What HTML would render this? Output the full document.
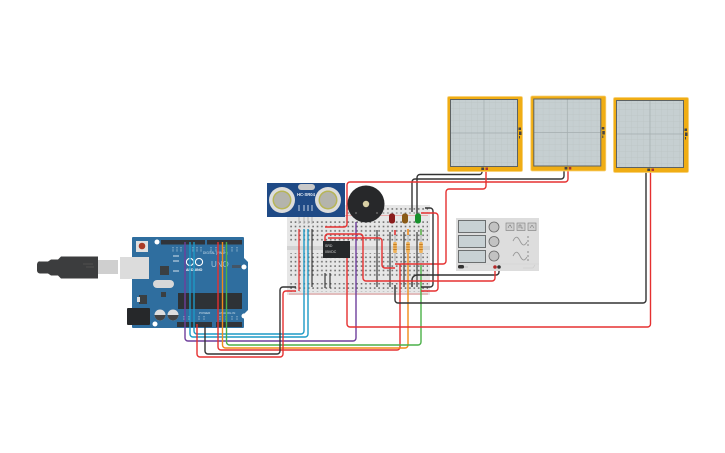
<!DOCTYPE html>
<html><head><meta charset="utf-8"><style>
html,body{margin:0;padding:0;background:#fff}
svg{display:block}
text{font-family:"Liberation Sans",sans-serif}
.w{fill:none;stroke-width:1.4;stroke-linejoin:round}
</style></head><body>
<svg width="725" height="453" viewBox="0 0 725 453" xmlns="http://www.w3.org/2000/svg">
<defs>
<pattern id="h" width="4.4" height="4.4" patternUnits="userSpaceOnUse" x="289" y="0"><rect x="1.300" y="1.300" width="1.600" height="1.600" fill="#6e6e6e"/></pattern>
<pattern id="g" width="6" height="6" patternUnits="userSpaceOnUse"><path d="M6 0H0V6" fill="none" stroke="#b4bcbd" stroke-width=".4"/></pattern>
<g id="scope">
<rect x="0" y="0" width="75" height="75" rx="1.500" fill="#f0ad14" stroke="#f7cf74" stroke-width=".8"/>
<rect x="3" y="3" width="67" height="67" fill="#c6cfd1"/>
<rect x="3" y="3" width="67" height="67" fill="url(#g)"/>
<path d="M36.500 3V70M3 36.500H70" stroke="#a5aeb0" stroke-width=".7"/>
<rect x="3" y="3" width="67" height="67" fill="none" stroke="#5d6263" stroke-width="1"/>
<rect x="33.800" y="71" width="2.800" height="2.500" fill="#444"/><rect x="38" y="71" width="2.500" height="2.500" fill="#a33"/>
<path d="M71 31h2.500v2.500h-2.500zM71.500 35h2.500v3.500h-2.500zM71.500 39.500h1v2.500h-1z" fill="#444"/>
</g>
<g id="res"><rect x="-1.800" y="0" width="3.600" height="11" rx="1" fill="#efb25a"/><path d="M-1.800 2.500h3.600M-1.800 5h3.600M-1.800 7.500h3.600" stroke="#b86f14" stroke-width=".8"/></g>
</defs>

<!-- USB cable -->
<path d="M37 264.500a2.500 3 0 0 1 3-3h8l3-2h7l3-3h37v22H61l-3-3h-7l-3-2h-8a3 3 0 0 1-3-3z" fill="#3c3d3e"/>
<path d="M83 264h10M86 267h8" stroke="#555" stroke-width=".8"/>
<rect x="98" y="260" width="20" height="14" fill="#cfcfcf"/>
<rect x="120" y="257" width="29" height="22" fill="#dcdcdc"/>

<!-- Arduino -->
<path d="M132 238a1 1 0 0 1 1-1H243a1 1 0 0 1 1 1V258l4 4V310l-4 4V327a1 1 0 0 1-1 1H133a1 1 0 0 1-1-1V279H149V257H132Z" fill="#2f6e9f"/>
<rect x="136" y="241" width="12" height="11" fill="#e0e0e0"/><circle cx="142" cy="246" r="3.300" fill="#a93a26"/>
<circle cx="157" cy="242" r="2.500" fill="#fff"/><circle cx="244" cy="267" r="2.500" fill="#fff"/><circle cx="155" cy="324" r="2.500" fill="#fff"/><circle cx="244" cy="316" r="2.500" fill="#fff"/>
<rect x="161" y="240" width="44" height="4.500" fill="#30343a"/><rect x="207" y="240" width="35" height="4.500" fill="#30343a"/>
<rect x="177" y="322" width="35" height="5" fill="#30343a"/><rect x="216" y="322" width="26" height="5" fill="#30343a"/>
<rect x="178" y="293" width="64" height="16" fill="#2e3236"/>
<rect x="153" y="280" width="21" height="8" rx="4" fill="#d8d8d8"/>
<rect x="160" y="266" width="9" height="9" fill="#3a3f42"/>
<rect x="161" y="292" width="5" height="5" fill="#3a3f42"/>
<rect x="139" y="295" width="8" height="9" fill="#3a3f42"/><rect x="137" y="297" width="3" height="5" fill="#ddd"/>
<rect x="127" y="308" width="23" height="17" rx="1" fill="#26282a"/>
<circle cx="160" cy="315" r="5.500" fill="#ddd"/><path d="M154.500 315a5.500 5.500 0 0 0 11 0z" fill="#444"/>
<circle cx="173" cy="315" r="5.500" fill="#ddd"/><path d="M167.500 315a5.500 5.500 0 0 0 11 0z" fill="#444"/>
<rect x="232" y="265" width="9" height="3" fill="#456"/>
<circle cx="190" cy="262" r="3.600" fill="none" stroke="#fff" stroke-width="1.100"/><circle cx="199" cy="262" r="3.600" fill="none" stroke="#fff" stroke-width="1.100"/>
<text x="186" y="271" font-size="3.500" fill="#fff" font-weight="bold">ARDUINO</text>
<text x="211" y="267" font-size="8" fill="#9fc2dc">UNO</text>
<text x="203" y="254" font-size="3.200" fill="#cfe0ec">DIGITAL (PWM~)</text>
<text x="199" y="314" font-size="3" fill="#cfe0ec">POWER</text>
<text x="219" y="314" font-size="3" fill="#cfe0ec">ANALOG IN</text>
<path d="M173 247v5M177 247v5M181 247v5M193 247v5M197 247v5M201 247v5M211 247v5M216 247v5M224 247v5M232 247v5M237 247v5M184 316v4M189 316v4M194 316v4M199 316v4M204 316v4M220 316v4M226 316v4M232 316v4M237 316v4" stroke="#b9d0e0" stroke-width=".8" stroke-dasharray="1 .6"/>
<path d="M173 256h6M173 261h6M173 271h6" stroke="#d5e2ec" stroke-width="1"/>

<!-- Breadboard -->
<rect x="287" y="205" width="143" height="90" fill="#e6e6e6"/>
<rect x="287" y="246" width="143" height="4" fill="#d2d2d2"/>
<rect x="289" y="208" width="139" height="5.500" fill="url(#h)"/>
<rect x="289" y="220" width="139" height="23" fill="url(#h)"/>
<rect x="289" y="253" width="139" height="23" fill="url(#h)"/>
<rect x="289" y="283" width="139" height="9" fill="url(#h)"/>
<path d="M289 215.500H428" stroke="#e79a9a" stroke-width=".8"/>
<path d="M289 294H428" stroke="#d77" stroke-width=".8"/>

<!-- short board wires -->
<g stroke="#2d2d2d" stroke-width="1.100" fill="none">
<path d="M312 229V287M325 273V288M330 273V288M377 230V287M390 232V287M404 232V287M417 232V287"/>
</g>
<path d="M299 229V291" stroke="#e23434" stroke-width="1.300"/>
<path d="M395 230v5" stroke-width="1.600" fill="none" stroke="#e23434"/>
<path d="M408 229v6" stroke="#f28c1c" stroke-width="1.600"/><path d="M421 229v6" stroke="#5bb04a" stroke-width="1.600"/>
<path d="M395 235v7M408 235v7M421 235v7M395 253v8M408 253v7M421 253v12" stroke="#999" stroke-width=".8"/>
<use href="#res" x="395" y="242"/><use href="#res" x="408" y="242"/><use href="#res" x="421" y="242"/>

<!-- Wires -->
<path class="w" stroke="#6f3e9c" d="M185 242V338a3 3 0 0 0 3 3H353a3 3 0 0 0 3-3V222"/>
<path class="w" stroke="#1d9ac6" d="M190 242V334a3 3 0 0 0 3 3H305a3 3 0 0 0 3-3V229"/>
<path class="w" stroke="#1d9ac6" d="M194 242V331a3 3 0 0 0 3 3H301a3 3 0 0 0 3-3V229"/>
<path class="w" stroke="#e53030" d="M218 242V347a3 3 0 0 0 3 3H397a3 3 0 0 0 3-3V264"/>
<path class="w" stroke="#f08c1a" d="M222.500 242V345a3 3 0 0 0 3 3H405a3 3 0 0 0 3-3V253"/>
<path class="w" stroke="#4bb048" d="M226.500 242V342a3 3 0 0 0 3 3H418a3 3 0 0 0 3-3V265"/>
<path class="w" stroke="#333" d="M205 325V351a3 3 0 0 0 3 3H277a3 3 0 0 0 3-3V290a3 3 0 0 1 3-3H296"/>
<path class="w" stroke="#e53030" d="M197 324V354a3 3 0 0 0 3 3H280a3 3 0 0 0 3-3V294a3 3 0 0 1 3-3H296"/>
<path class="w" stroke="#e53030" d="M347 258V324a3 3 0 0 0 3 3H647.500a3 3 0 0 0 3-3V170"/>
<path class="w" stroke="#333" d="M646 170V300a3 3 0 0 1-3 3H398a3 3 0 0 1-3-3V285"/>
<path class="w" stroke="#333" d="M482 170v2a2.500 2.500 0 0 1-2.500 2.500H420a3 3 0 0 0-3 3V214"/>
<path class="w" stroke="#333" d="M564 170v6a3 3 0 0 1-3 3H415a3 3 0 0 0-3 3V212"/>
<path class="w" stroke="#e53030" d="M568 170v9a3 3 0 0 1-3 3H350a3 3 0 0 0-3 3V224a3 3 0 0 1-3 3H325"/>
<path class="w" stroke="#e53030" d="M486 170v16a3 3 0 0 1-3 3H449a3 3 0 0 0-3 3V261a3 3 0 0 1-3 3H395"/>
<path class="w" stroke="#333" d="M425 208H430a3 3 0 0 1 3 3V284a3 3 0 0 1-3 3H421"/>
<path class="w" stroke="#e53030" d="M421 213H435a3 3 0 0 1 3 3V288a3 3 0 0 1-3 3H421"/>
<path class="w" stroke="#333" d="M499 267V272a3 3 0 0 1-3 3H417a5 5 0 0 0-5 5V287"/>
<path class="w" stroke="#e53030" d="M495 267V278a3 3 0 0 1-3 3H366a3 3 0 0 1-3-3V237a3 3 0 0 0-3-3H328a3 3 0 0 0-3 3V241"/>
<path class="w" stroke="#e53030" d="M328 238H379a3 3 0 0 1 3 3V265a3 3 0 0 0 3 3H395"/>

<!-- LEDs -->
<rect x="389" y="213.500" width="6" height="10" rx="2.500" fill="#8a1c1c"/>
<rect x="402" y="213.500" width="6" height="10" rx="2.500" fill="#8a5a16"/>
<rect x="415" y="213.500" width="6" height="10" rx="2.500" fill="#18902c"/>

<!-- Relay IC -->
<rect x="323" y="241" width="27" height="17" fill="#25282a"/>
<text x="325" y="247" font-size="3.500" fill="#ddd">SRD</text>
<text x="325" y="253" font-size="3.500" fill="#ddd">05VDC</text>

<!-- Ultrasonic -->
<path d="M299 217v7M304 217v7M308 217v7M312 217v7" stroke="#bbb" stroke-width="1.200"/>
<rect x="267" y="183" width="78" height="34" fill="#1f4a86"/>
<rect x="298" y="184" width="17" height="6" rx="3" fill="#c9c9c9"/>
<g fill="#dcdcdc"><circle cx="282" cy="200" r="13"/><circle cx="328" cy="200" r="13"/></g>
<g fill="#b7b557"><circle cx="282" cy="200" r="9.500"/><circle cx="328" cy="200" r="9.500"/></g>
<g fill="#b4b4ac"><circle cx="282" cy="200" r="8"/><circle cx="328" cy="200" r="8"/></g>
<text x="297" y="196" font-size="4.200" fill="#e6edf5" font-weight="bold">HC-SR04</text>
<path d="M299 205v6M304 205v6M308 205v6M312 205v6" stroke="#c6d3e4" stroke-width="1"/>

<!-- Buzzer -->
<circle cx="366" cy="204" r="18.500" fill="#27282a"/>
<circle cx="366" cy="204" r="3.200" fill="#d8cfa4"/>
<circle cx="356" cy="213" r="1" fill="#666"/><circle cx="377" cy="213" r="1" fill="#666"/>

<!-- Function generator -->
<rect x="456" y="218" width="83" height="53" fill="#dddddd"/>
<g fill="#c8d1d4" stroke="#6c6f70" stroke-width="1">
<rect x="458.500" y="220.500" width="27" height="12"/><rect x="458.500" y="235.500" width="27" height="12"/><rect x="458.500" y="250.500" width="27" height="12"/>
</g>
<g fill="#c2c2c2" stroke="#666" stroke-width=".8"><circle cx="494" cy="227" r="5"/><circle cx="494" cy="241.500" r="5"/><circle cx="494" cy="256" r="5"/></g>
<g fill="#cfcfcf" stroke="#7b7b7b" stroke-width=".6"><rect x="506" y="223" width="8" height="7.500"/><rect x="517" y="223" width="8" height="7.500"/><rect x="528" y="223" width="8" height="7.500"/></g>
<path d="M508 228l1.500-3h1l1 3M519 228v-3h2v3h2M530 228l2-3 2 3" fill="none" stroke="#666" stroke-width=".5"/>
<path d="M513 241c3-6 5-4 7 0s4 6 7 1M513 256c3-6 5-4 7 0s4 6 7 1" fill="none" stroke="#999" stroke-width=".9"/>
<path d="M528 236v2M528 240v2M528 244v2M528 251v2M528 255v2M528 259v2" stroke="#777" stroke-width=".8"/>
<rect x="458" y="265" width="6" height="3.500" rx="1.500" fill="#333"/><path d="M464 267h4" stroke="#aaa" stroke-width=".6"/>
<path d="M456 264H539" stroke="#cfcfcf" stroke-width=".5"/>
<circle cx="495" cy="267" r="1.800" fill="#b52a2a"/><circle cx="499" cy="267" r="1.800" fill="#333"/>
<path d="M523 268h10l2-3" stroke="#c8c8c8" stroke-width=".6" fill="none"/>

<!-- Oscilloscopes -->
<use href="#scope" x="447.500" y="96.500"/>
<use href="#scope" x="530.800" y="96"/>
<use href="#scope" x="613.500" y="97.500"/>
</svg>
</body></html>
